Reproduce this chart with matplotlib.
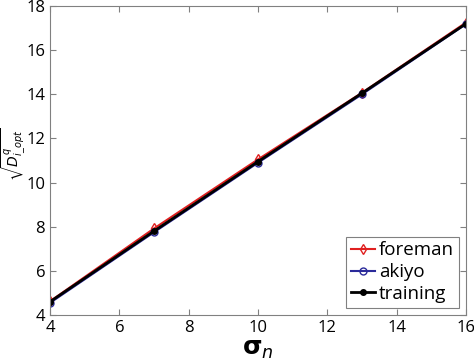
import matplotlib
matplotlib.use('Agg')
import matplotlib.pyplot as plt

sigma_n = [4, 7, 10, 13, 16]
foreman = [4.62, 7.92, 11.05, 14.07, 17.25]
akiyo = [4.55, 7.75, 10.9, 14.0, 17.18]
training = [4.6, 7.8, 10.95, 14.05, 17.2]

x_ticks = [4, 6, 8, 10, 12, 14, 16]
y_ticks = [4, 6, 8, 10, 12, 14, 16, 18]

plt.rcParams['font.family'] = ['Open Sans', 'DejaVu Sans']

fig = plt.figure(figsize=(4.74, 3.61), dpi=100)
ax = fig.add_axes([50 / 474, 46 / 361, 416 / 474, 309 / 361])

ax.plot(sigma_n, foreman, color='#e02020', marker='d', markersize=5,
        markerfacecolor='none', markeredgewidth=1.0, linewidth=1.5, label='foreman')
ax.plot(sigma_n, akiyo, color='#2a2a9a', marker='o', markersize=5,
        markerfacecolor='none', markeredgewidth=1.0, linewidth=1.5, label='akiyo')
ax.plot(sigma_n, training, color='black', marker='o', markersize=4,
        linewidth=2, label='training')

ax.set_xlim(4, 16)
ax.set_ylim(4, 18)
ax.set_xticks(x_ticks)
ax.set_yticks(y_ticks)
ax.tick_params(direction='in', length=4, labelsize=12, color='#808080',
               top=True, right=True)
for s in ax.spines.values():
    s.set_color('#808080')

ax.set_xlabel(r'$\mathbf{\sigma}_{n}$', fontsize=18, labelpad=0)
ax.set_ylabel(r'$\sqrt{D^{q}_{i\_opt}}$', fontsize=10)
ax.yaxis.set_label_coords(-0.055, 0.52)

leg = ax.legend(loc='lower right', fontsize=13.5, handlelength=1.3,
                handletextpad=0.2, borderpad=0.25, labelspacing=0.2,
                borderaxespad=0.4, fancybox=False, edgecolor='#808080',
                framealpha=1)
leg.get_frame().set_linewidth(0.8)

fig.savefig('out.png', dpi=100)
